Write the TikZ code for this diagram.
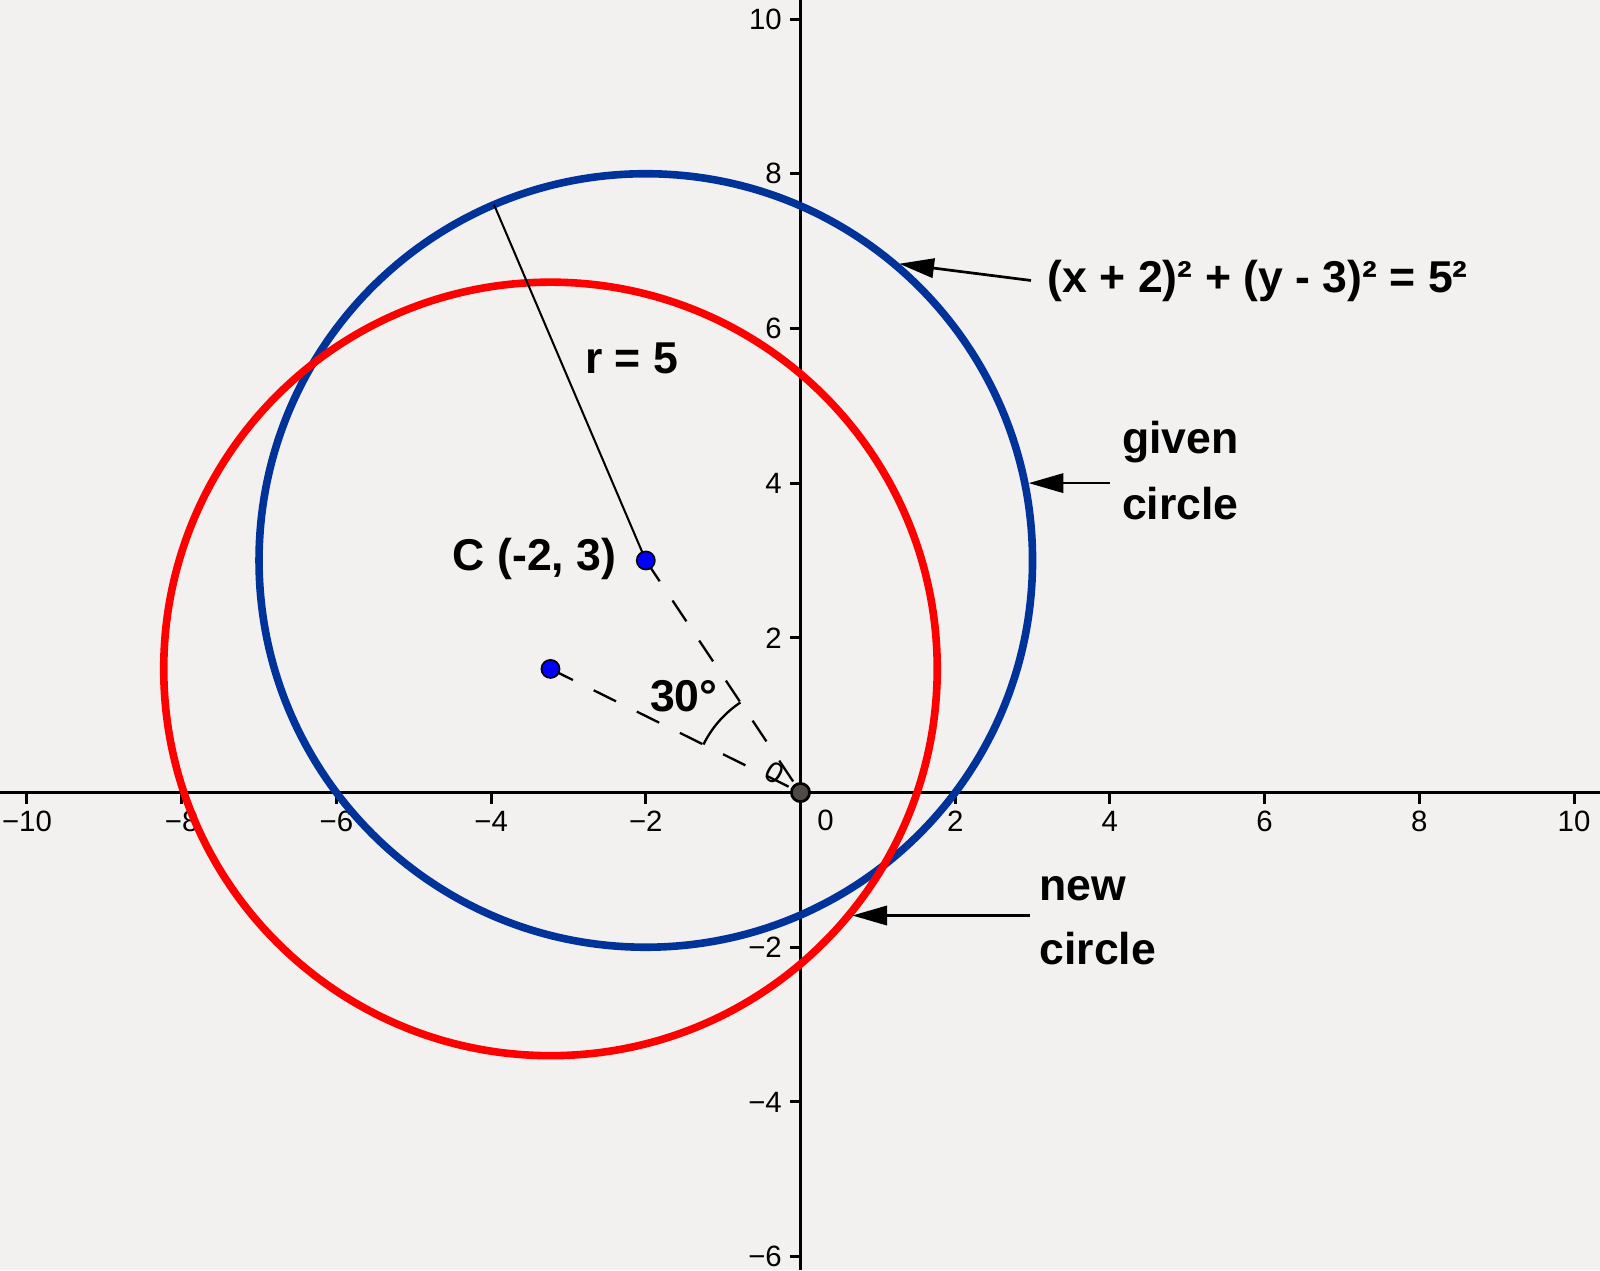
\documentclass[tikz,border=0pt]{standalone}
\usepackage{fontspec}
\setmainfont{Liberation Sans}
\usetikzlibrary{arrows.meta}
\definecolor{bg}{RGB}{242,241,239}
\definecolor{givenblue}{RGB}{0,51,153}
\definecolor{newred}{RGB}{255,0,0}
\definecolor{ptblue}{RGB}{0,0,255}
\definecolor{origray}{RGB}{80,74,70}
\begin{document}
\begin{tikzpicture}[
  axisline/.style={line width=1.1pt, black},
  tickmark/.style={line width=1.1pt, black},
  ticklabel/.style={font=\fontsize{10.8}{12}\selectfont, inner sep=0pt},
  lbl/.style={font=\bfseries\fontsize{16.4}{19}\selectfont, inner sep=0pt},
  circ/.style={line width=2.8pt},
  dashline/.style={line width=0.85pt, dash pattern=on 9.2pt off 8.5pt},
  pointer/.style={line width=1pt, -{Triangle[length=0.45cm,width=0.25cm]}},
  ptdot/.style={circle, draw=black, line width=0.6pt, fill=ptblue, minimum size=0.235cm, inner sep=0pt},
  origdot/.style={circle, draw=black, line width=1pt, fill=origray, minimum size=0.235cm, inner sep=0pt},
]
\fill[bg] (-10.349,-6.173) rectangle (10.336,10.246);
\useasboundingbox (-10.349,-6.173) rectangle (10.336,10.246);

% axes
\coordinate (xl) at (-10.349,0);
\coordinate (xr) at (10.336,0);
\coordinate (yb) at (0,-6.173);
\coordinate (yt) at (0,10.246);
\draw[axisline] (xl) -- (xr);
\draw[axisline] (yb) -- (yt);

% x ticks
\foreach \x/\t [count=\i] in {-10/{−10},-8/{−8},-6/{−6},-4/{−4},-2/{−2},2/2,4/4,6/6,8/8,10/10} {
  \draw[tickmark] (\x,0) -- (\x,-0.15);
  \node[ticklabel] (xtl\i) at (\x,-0.37) {\t};
}
% y ticks
\foreach \y/\t [count=\i] in {10/10,8/8,6/6,4/4,2/2,-2/{−2},-4/{−4},-6/{−6}} {
  \draw[tickmark] (0,\y) -- (-0.14,\y);
  \node[ticklabel, anchor=east] (ytl\i) at (-0.235,\y) {\t};
}
\node[ticklabel] (xzero) at (0.323,-0.356) {0};
\node[ticklabel, rotate=-30] (ozero) at (-0.339,0.25) {0};

% circles
\coordinate (C) at (-2,3);
\coordinate (Cn) at (-3.232,1.598);
\coordinate (O) at (0,0);
\draw[circ, givenblue] (C) circle[radius=5];
\draw[circ, newred] (Cn) circle[radius=5];

% radius line
\path (C) ++(113.1:5) coordinate (R);
\draw[line width=0.75pt] (C) -- (R);

% dashed lines and angle
\draw[dashline] (C) -- (O);
\draw[dashline] (Cn) -- (O);
\draw[line width=0.85pt] (123.69:1.4) arc[start angle=123.69, end angle=153.69, radius=1.4];

% pointer arrows
\path (C) ++(49.5:5.045) coordinate (eqtip);
\coordinate (eqstart) at (2.98,6.62);
\draw[pointer] (eqstart) -- (eqtip);
\coordinate (gstart) at (4.0,4.0);
\coordinate (gtip) at (2.95,4.0);
\draw[pointer] (gstart) -- (gtip);
\coordinate (nstart) at (2.967,-1.59);
\coordinate (ntip) at (0.67,-1.59);
\draw[pointer] (nstart) -- (ntip);

% points
\node[ptdot] (Cdot) at (C) {};
\node[ptdot] (Cndot) at (Cn) {};
\node[origdot] (Odot) at (O) {};

% labels
\node[lbl, anchor=base west] (eq) at (3.19,6.47) {(x + 2)² + (y - 3)² = 5²};
\node[lbl, anchor=base west] (given) at (4.15,4.383) {given};
\node[lbl, anchor=base west] (given2) at (4.15,3.53) {circle};
\node[lbl, anchor=base west] (new) at (3.085,-1.39) {new};
\node[lbl, anchor=base west] (new2) at (3.085,-2.229) {circle};
\node[lbl, anchor=base west] (rlbl) at (-2.79,5.42) {r = 5};
\node[lbl, anchor=base west] (Clbl) at (-4.5,2.864) {C (-2, 3)};
\node[lbl, anchor=base west] (ang) at (-1.95,1.045) {30°};
\end{tikzpicture}
\end{document}
